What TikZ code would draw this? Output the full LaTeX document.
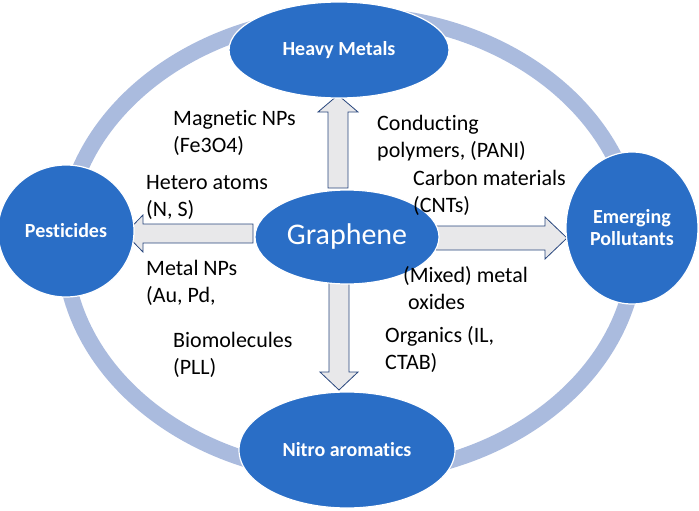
\documentclass[tikz,border=0pt]{standalone}
\usepackage{fontspec}
\setmainfont{Carlito}[Ligatures={NoCommon}]
\usetikzlibrary{shapes.geometric,calc}
\definecolor{blobblue}{RGB}{42,110,198}
\definecolor{ringblue}{RGB}{170,187,222}
\definecolor{arrfill}{RGB}{232,232,234}
\definecolor{arrline}{RGB}{40,70,125}
\tikzset{
  blob/.style={ellipse,fill=blobblue,draw=white,line width=1.2pt,inner sep=0pt,
     text=white,font=\fontsize{20}{22}\selectfont\bfseries,align=center},
  ringline/.style={draw=ringblue,line width=16pt},
  blockarr/.style={fill=arrfill,draw=arrline,line width=0.8pt,line join=miter},
  lbl/.style={anchor=base west,inner sep=0pt,font=\fontsize{22}{27}\selectfont},
}
\newcommand{\blockarrow}[5]{%
  \coordinate (ba-base) at ($(#2)!#5!(#1)$);
  \draw[blockarr] ($(#1)!#3!90:(#2)$) -- ($(ba-base)!#3!-90:(#1)$) -- ($(ba-base)!#4!-90:(#1)$) -- (#2)
     -- ($(ba-base)!#4!90:(#1)$) -- ($(ba-base)!#3!90:(#1)$) -- ($(#1)!#3!-90:(#2)$) -- cycle;}
\begin{document}
\begin{tikzpicture}[x=1pt,y=-1pt]
\useasboundingbox (0,0) rectangle (699,511);
% ring
\coordinate (ringc) at (350,245);
\draw[ringline] (ringc) ellipse [x radius=286, y radius=230];
% arrow end points
\coordinate (upS) at (338,188);   \coordinate (upT) at (338,95);
\coordinate (dnS) at (339,283);   \coordinate (dnT) at (339,390);
\coordinate (lfS) at (253,233.5); \coordinate (lfT) at (125,233.5);
\coordinate (rtS) at (436,238);   \coordinate (rtT) at (567,238);
\blockarrow{upS}{upT}{10pt}{20pt}{17pt}
\blockarrow{dnS}{dnT}{10pt}{19pt}{18pt}
\blockarrow{lfS}{lfT}{9.5pt}{18.5pt}{18pt}
\blockarrow{rtS}{rtT}{12pt}{21pt}{22pt}
% ellipses
\node[blob,minimum width=220pt,minimum height=96pt] (heavy) at (339,50) {Heavy Metals};
\node[blob,minimum width=136pt,minimum height=132pt] (pest) at (66,231) {Pesticides};
\node[blob,minimum width=132pt,minimum height=152pt] (emerg) at (632,228) {Emerging\\Pollutants};
\node[blob,minimum width=216pt,minimum height=116pt] (nitro) at (347,450) {Nitro aromatics};
\node[blob,minimum width=184pt,minimum height=94pt,font=\fontsize{30}{34}\selectfont] (graph) at (347,237) {Graphene};
% labels
\node[lbl] (l1) at (173,125) {\begin{tabular}[t]{@{}l@{}}Magnetic NPs\\(Fe3O4)\end{tabular}};
\node[lbl] (l2) at (146,189) {\begin{tabular}[t]{@{}l@{}}Hetero atoms\\(N, S)\end{tabular}};
\node[lbl] (l3) at (146,275) {\begin{tabular}[t]{@{}l@{}}Metal NPs\\(Au, Pd,\end{tabular}};
\node[lbl] (l4) at (173,347) {\begin{tabular}[t]{@{}l@{}}Biomolecules\\(PLL)\end{tabular}};
\node[lbl] (l5) at (377,130) {\begin{tabular}[t]{@{}l@{}}Conducting\\polymers, (PANI)\end{tabular}};
\node[lbl] (l6) at (413,185) {\begin{tabular}[t]{@{}l@{}}Carbon materials\\(CNTs)\end{tabular}};
\node[lbl] (l7) at (403,282) {\begin{tabular}[t]{@{}l@{}}(Mixed) metal\\\ oxides\end{tabular}};
\node[lbl] (l8) at (385,342) {\begin{tabular}[t]{@{}l@{}}Organics (IL,\\CTAB)\end{tabular}};
\end{tikzpicture}
\end{document}
